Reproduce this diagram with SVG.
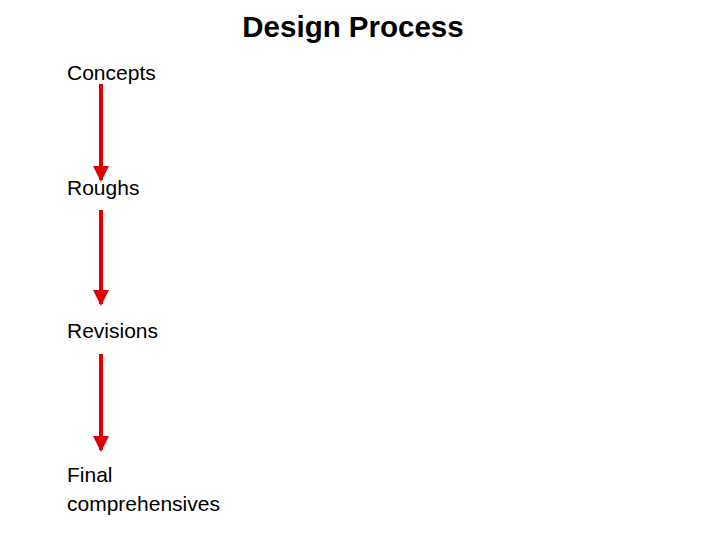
<svg xmlns="http://www.w3.org/2000/svg" width="720" height="540" viewBox="0 0 720 540">
<style>
.t{font-family:"Liberation Sans",Arial,sans-serif;font-size:21px;fill:#000}
.h{font-family:"Liberation Sans",Arial,sans-serif;font-size:29.5px;font-weight:bold;fill:#000}
.c{stroke:#e00000;stroke-width:4;fill:none}
</style>
<defs><marker id="a" markerUnits="userSpaceOnUse" markerWidth="16" markerHeight="16" refX="14" refY="8" orient="auto"><path d="M0,0 L16,8 L0,16 Z" fill="#e00000"/></marker></defs>
<rect width="720" height="540" fill="#fff"/>
<text class="h" x="353" y="37" text-anchor="middle">Design Process</text>
<g id="n1"><text class="t" x="67" y="80">Concepts</text></g>
<g id="n2"><text class="t" x="67" y="195">Roughs</text></g>
<g id="n3"><text class="t" x="67" y="338">Revisions</text></g>
<g id="n4"><text class="t" x="67" y="482">Final</text><text class="t" x="67" y="511">comprehensives</text></g>
<g id="connectors">
<line class="c" x1="101" y1="84" x2="101" y2="180" marker-end="url(#a)"/>
<line class="c" x1="101" y1="210" x2="101" y2="304" marker-end="url(#a)"/>
<line class="c" x1="101" y1="354" x2="101" y2="450" marker-end="url(#a)"/>
</g>
</svg>
